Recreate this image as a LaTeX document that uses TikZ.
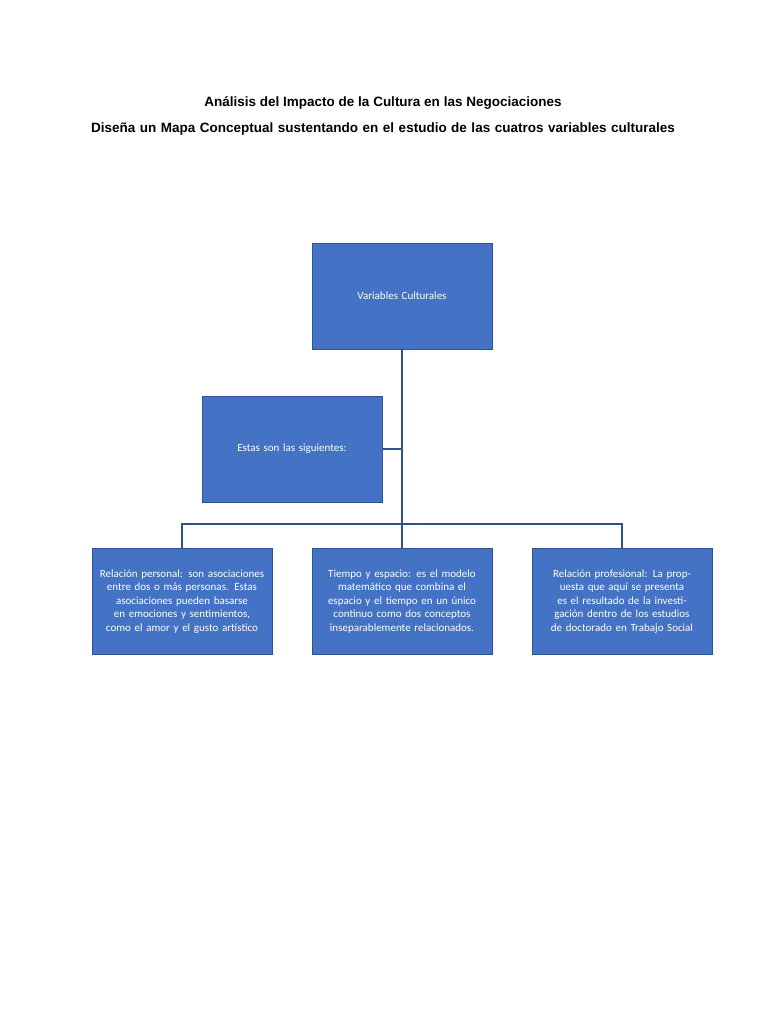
\documentclass[tikz,border=0pt]{standalone}
\usepackage{fontspec}
\setmainfont{Liberation Sans}
\newfontfamily\boxfont{Carlito}
\begin{document}
\begin{tikzpicture}[x=1pt,y=-1pt,
  box/.style={fill={rgb,255:red,68;green,114;blue,196},draw={rgb,255:red,47;green,82;blue,143},line width=0.6pt,minimum width=180pt,minimum height=106pt,text width=172pt,align=center,text=white,font=\boxfont\fontsize{11}{13.5}\selectfont,inner sep=4pt},
  ln/.style={draw={rgb,255:red,47;green,82;blue,143},line width=1.3pt}]
\useasboundingbox (0,0) rectangle (768,1024);
\node[font=\bfseries\fontsize{13.5}{16}\selectfont] (title) at (383,103) {Análisis del Impacto de la Cultura en las Negociaciones};
\node[anchor=north west,text width=600pt,align=left,font=\bfseries\fontsize{13.5}{19}\selectfont,inner sep=0pt] (sub) at (91,123) {Diseña un Mapa Conceptual sustentando en el estudio de las cuatros variables culturales};
\node[box] (top) at (402,296) {Variables Culturales};
\node[box] (mid) at (292,449) {Estas son las siguientes:};
\node[box,anchor=north] (b1) at (182,548) {Relación personal: son asociaciones entre dos o más personas. Estas asociaciones pueden basarse en emociones y sentimientos, como el amor y el gusto artístico};
\node[box,anchor=north] (b2) at (402,548) {Tiempo y espacio: es el modelo matemático que combina el espacio y el tiempo en un único continuo como dos conceptos inseparablemente relacionados.};
\node[box,anchor=north] (b3) at (622,548) {Relación profesional: La propuesta que aquí se presenta es el resultado de la investigación dentro de los estudios de doctorado en Trabajo Social};
\coordinate (j) at (402,524);
\path[ln] (top.south) -- (j);
\path[ln] (mid.east) -- (402,449);
\path[ln] (b1.north) |- (j) -| (b3.north);
\path[ln] (j) -- (b2.north);
\end{tikzpicture}
\end{document}
